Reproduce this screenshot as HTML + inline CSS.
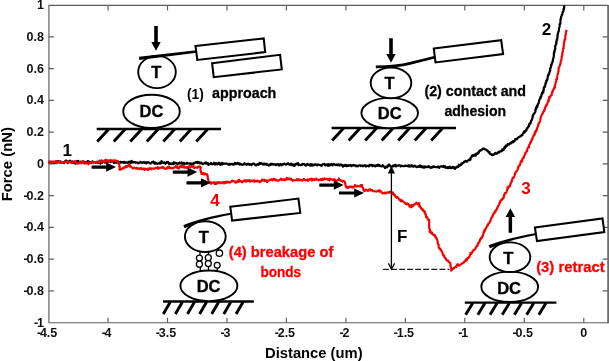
<!DOCTYPE html>
<html><head><meta charset="utf-8"><title>Force-distance curve</title>
<style>
html,body{margin:0;padding:0;background:#fff;}
svg{display:block;}
text{font-family:"Liberation Sans",sans-serif;font-weight:bold;}
.tk{font-size:12.5px;fill:#111;}
.ax{font-size:14.5px;fill:#000;}
.lb{font-size:15px;fill:#000;stroke:#000;stroke-width:0.3px;}
.lr{font-size:15px;fill:#f00;stroke:#f00;stroke-width:0.3px;}
.num{font-size:17px;}
.cell{font-size:16.5px;fill:#000;stroke:#000;stroke-width:0.35px;}
</style></head><body>
<svg width="609" height="361" viewBox="0 0 609 361">
<rect width="609" height="361" fill="#fff"/>

<g stroke="#5c5c5c" stroke-width="1.15" fill="none">
<path d="M608.3 5.4H48.9V322.7H608.3"/>
<path d="M608.1 4.9V323.2" stroke-width="1.6"/>
<path d="M108.1 322.7v-5.0M108.1 5.4v5.0"/>
<path d="M167.5 322.7v-5.0M167.5 5.4v5.0"/>
<path d="M227.0 322.7v-5.0M227.0 5.4v5.0"/>
<path d="M286.4 322.7v-5.0M286.4 5.4v5.0"/>
<path d="M345.9 322.7v-5.0M345.9 5.4v5.0"/>
<path d="M405.4 322.7v-5.0M405.4 5.4v5.0"/>
<path d="M464.8 322.7v-5.0M464.8 5.4v5.0"/>
<path d="M524.3 322.7v-5.0M524.3 5.4v5.0"/>
<path d="M583.8 322.7v-5.0M583.8 5.4v5.0"/>
<path d="M48.9 290.9h5.0M607.7 290.9h-5.0"/>
<path d="M48.9 259.1h5.0M607.7 259.1h-5.0"/>
<path d="M48.9 227.3h5.0M607.7 227.3h-5.0"/>
<path d="M48.9 195.6h5.0M607.7 195.6h-5.0"/>
<path d="M48.9 163.8h5.0M607.7 163.8h-5.0"/>
<path d="M48.9 132.1h5.0M607.7 132.1h-5.0"/>
<path d="M48.9 100.3h5.0M607.7 100.3h-5.0"/>
<path d="M48.9 68.6h5.0M607.7 68.6h-5.0"/>
<path d="M48.9 36.8h5.0M607.7 36.8h-5.0"/>
</g>
<g class="tk">
<text x="47.1" y="337.1" text-anchor="middle">-<tspan dx="-1.2">4.5</tspan></text>
<text x="106.6" y="337.1" text-anchor="middle">-<tspan dx="-1.2">4</tspan></text>
<text x="166.0" y="337.1" text-anchor="middle">-<tspan dx="-1.2">3.5</tspan></text>
<text x="225.5" y="337.1" text-anchor="middle">-<tspan dx="-1.2">3</tspan></text>
<text x="284.9" y="337.1" text-anchor="middle">-<tspan dx="-1.2">2.5</tspan></text>
<text x="344.4" y="337.1" text-anchor="middle">-<tspan dx="-1.2">2</tspan></text>
<text x="403.9" y="337.1" text-anchor="middle">-<tspan dx="-1.2">1.5</tspan></text>
<text x="463.3" y="337.1" text-anchor="middle">-<tspan dx="-1.2">1</tspan></text>
<text x="522.8" y="337.1" text-anchor="middle">-<tspan dx="-1.2">0.5</tspan></text>
<text x="583.8" y="337.1" text-anchor="middle">0</text>
<text x="43.9" y="326.7" text-anchor="end">-<tspan dx="-1.2">1</tspan></text>
<text x="43.9" y="295.0" text-anchor="end">-<tspan dx="-1.2">0.8</tspan></text>
<text x="43.9" y="263.2" text-anchor="end">-<tspan dx="-1.2">0.6</tspan></text>
<text x="43.9" y="231.4" text-anchor="end">-<tspan dx="-1.2">0.4</tspan></text>
<text x="43.9" y="199.7" text-anchor="end">-<tspan dx="-1.2">0.2</tspan></text>
<text x="43.9" y="167.9" text-anchor="end">0</text>
<text x="43.9" y="136.2" text-anchor="end">0.2</text>
<text x="43.9" y="104.4" text-anchor="end">0.4</text>
<text x="43.9" y="72.7" text-anchor="end">0.6</text>
<text x="43.9" y="40.9" text-anchor="end">0.8</text>
<text x="43.9" y="9.2" text-anchor="end">1</text>
</g>
<text class="ax" x="265" y="357.6" textLength="97.6" lengthAdjust="spacingAndGlyphs">Distance (um)</text>
<text class="ax" transform="translate(11.6 201.3) rotate(-90)" textLength="74.2" lengthAdjust="spacingAndGlyphs">Force (nN)</text>
<path d="M48.5 163.3 L49.0 162.7 L49.5 162.7 L50.0 161.7 L50.5 162.4 L51.0 162.4 L51.5 162.4 L52.0 162.2 L52.5 162.2 L53.0 162.0 L53.5 161.8 L54.0 162.7 L54.5 162.9 L55.0 163.3 L55.5 162.3 L56.0 162.0 L56.5 161.8 L57.0 161.2 L57.5 162.4 L58.0 161.5 L58.5 161.2 L59.0 161.4 L59.5 162.4 L60.0 161.8 L60.5 161.5 L61.0 162.1 L61.5 162.7 L62.0 162.3 L62.5 162.4 L63.0 162.2 L63.5 162.9 L64.0 163.2 L64.5 161.7 L65.0 161.2 L65.5 161.3 L66.0 160.5 L66.5 161.4 L67.0 161.6 L67.5 163.1 L68.0 162.3 L68.5 161.5 L69.0 162.3 L69.5 161.5 L70.0 160.7 L70.5 161.1 L71.0 161.7 L71.5 161.6 L72.0 162.3 L72.5 161.5 L73.0 162.4 L73.5 163.0 L74.0 163.1 L74.5 163.1 L75.0 163.2 L75.5 163.5 L76.0 162.1 L76.5 162.5 L77.0 161.1 L77.5 161.6 L78.0 160.8 L78.5 162.2 L79.0 162.2 L79.5 161.6 L80.0 162.5 L80.5 161.6 L81.0 162.2 L81.5 162.4 L82.0 161.9 L82.5 162.5 L83.0 163.0 L83.5 161.5 L84.0 162.3 L84.5 161.9 L85.0 162.9 L85.5 162.4 L86.0 162.5 L86.5 162.6 L87.0 162.3 L87.5 161.2 L88.0 162.5 L88.5 161.3 L89.0 161.9 L89.5 162.4 L90.0 161.8 L90.5 162.5 L91.0 163.0 L91.5 162.7 L92.0 162.1 L92.5 161.4 L93.0 162.1 L93.5 162.2 L94.0 162.3 L94.5 162.1 L95.0 162.4 L95.5 162.2 L96.0 162.3 L96.5 162.7 L97.0 161.7 L97.5 161.8 L98.0 162.8 L98.5 162.4 L99.0 161.6 L99.5 162.4 L100.0 162.9 L100.5 163.6 L101.0 163.0 L101.5 162.2 L102.0 162.0 L102.5 162.5 L103.0 161.8 L103.5 161.5 L104.0 161.8 L104.5 162.0 L105.0 162.7 L105.5 162.1 L106.0 162.5 L106.5 162.6 L107.0 161.7 L107.5 161.0 L108.0 161.6 L108.5 160.7 L109.0 161.5 L109.5 161.0 L110.0 160.9 L110.5 162.0 L111.0 161.7 L111.5 161.6 L112.0 161.6 L112.5 161.3 L113.0 161.5 L113.5 162.1 L114.0 162.9 L114.5 162.6 L115.0 162.1 L115.5 162.6 L116.0 162.0 L116.5 162.3 L117.0 162.8 L117.5 162.0 L118.0 161.4 L118.5 161.8 L119.0 162.3 L119.5 162.2 L120.0 162.7 L120.5 161.8 L121.0 162.5 L121.5 162.2 L122.0 162.0 L122.5 162.4 L123.0 162.1 L123.5 161.9 L124.0 162.9 L124.5 161.8 L125.0 162.5 L125.5 162.7 L126.0 162.8 L126.5 162.3 L127.0 162.7 L127.5 162.6 L128.0 162.8 L128.5 161.8 L129.0 162.3 L129.5 162.1 L130.0 161.6 L130.5 163.3 L131.0 162.0 L131.5 161.0 L132.0 162.4 L132.5 161.7 L133.0 162.4 L133.5 162.6 L134.0 162.0 L134.5 162.0 L135.0 162.1 L135.5 162.6 L136.0 162.3 L136.5 162.3 L137.0 162.8 L137.5 163.1 L138.0 162.8 L138.5 163.1 L139.0 163.1 L139.5 162.4 L140.0 162.7 L140.5 161.8 L141.0 162.5 L141.5 162.4 L142.0 162.9 L142.5 162.8 L143.0 162.3 L143.5 162.4 L144.0 162.0 L144.5 162.8 L145.0 162.9 L145.5 163.1 L146.0 162.2 L146.5 163.4 L147.0 162.7 L147.5 162.5 L148.0 162.2 L148.5 162.3 L149.0 162.6 L149.5 163.0 L150.0 163.3 L150.5 163.3 L151.0 163.4 L151.5 163.0 L152.0 162.1 L152.5 162.0 L153.0 161.8 L153.5 161.6 L154.0 163.3 L154.5 162.3 L155.0 163.8 L155.5 162.7 L156.0 163.4 L156.5 163.7 L157.0 163.3 L157.5 163.8 L158.0 163.6 L158.5 163.4 L159.0 163.3 L159.5 162.7 L160.0 163.7 L160.5 162.6 L161.0 163.3 L161.5 161.1 L162.0 162.6 L162.5 162.7 L163.0 162.4 L163.5 163.1 L164.0 162.9 L164.5 162.4 L165.0 162.8 L165.5 163.9 L166.0 162.7 L166.5 162.5 L167.0 162.2 L167.5 162.6 L168.0 161.9 L168.5 162.5 L169.0 164.0 L169.5 163.4 L170.0 163.4 L170.5 163.9 L171.0 164.0 L171.5 163.7 L172.0 164.1 L172.5 163.3 L173.0 163.2 L173.5 164.1 L174.0 162.2 L174.5 162.8 L175.0 163.4 L175.5 162.9 L176.0 163.2 L176.5 163.0 L177.0 163.4 L177.5 164.6 L178.0 163.4 L178.5 163.2 L179.0 163.6 L179.5 162.6 L180.0 163.2 L180.5 163.0 L181.0 163.6 L181.5 162.5 L182.0 163.8 L182.5 163.4 L183.0 162.9 L183.5 163.9 L184.0 163.0 L184.5 163.9 L185.0 163.5 L185.5 163.7 L186.0 163.6 L186.5 163.7 L187.0 162.7 L187.5 163.6 L188.0 163.3 L188.5 163.5 L189.0 163.5 L189.5 163.7 L190.0 163.1 L190.5 164.1 L191.0 164.5 L191.5 163.5 L192.0 163.5 L192.5 163.6 L193.0 164.1 L193.5 164.2 L194.0 162.9 L194.5 162.9 L195.0 162.8 L195.5 162.5 L196.0 162.1 L196.5 162.6 L197.0 161.8 L197.5 163.1 L198.0 163.0 L198.5 162.1 L199.0 162.1 L199.5 162.5 L200.0 163.4 L200.5 162.7 L201.0 162.5 L201.5 163.5 L202.0 163.7 L202.5 163.3 L203.0 164.1 L203.5 163.7 L204.0 163.5 L204.5 162.8 L205.0 163.3 L205.5 163.3 L206.0 162.4 L206.5 163.6 L207.0 162.9 L207.5 163.9 L208.0 163.2 L208.5 164.9 L209.0 164.1 L209.5 164.4 L210.0 164.0 L210.5 163.3 L211.0 162.9 L211.5 163.8 L212.0 164.4 L212.5 164.0 L213.0 163.8 L213.5 163.8 L214.0 162.7 L214.5 163.6 L215.0 164.5 L215.5 163.6 L216.0 163.2 L216.5 164.2 L217.0 163.9 L217.5 164.3 L218.0 163.3 L218.5 163.9 L219.0 162.7 L219.5 163.8 L220.0 164.5 L220.5 164.8 L221.0 163.4 L221.5 164.4 L222.0 162.8 L222.5 164.4 L223.0 164.0 L223.5 163.3 L224.0 163.8 L224.5 163.5 L225.0 163.6 L225.5 163.7 L226.0 163.7 L226.5 163.3 L227.0 163.7 L227.5 164.2 L228.0 164.2 L228.5 164.3 L229.0 164.9 L229.5 163.8 L230.0 164.1 L230.5 164.4 L231.0 164.0 L231.5 164.1 L232.0 163.8 L232.5 164.5 L233.0 163.8 L233.5 164.6 L234.0 164.2 L234.5 164.4 L235.0 163.0 L235.5 164.0 L236.0 163.1 L236.5 163.4 L237.0 164.0 L237.5 162.8 L238.0 163.0 L238.5 163.4 L239.0 164.3 L239.5 163.4 L240.0 164.5 L240.5 163.9 L241.0 164.2 L241.5 164.3 L242.0 164.8 L242.5 164.5 L243.0 164.7 L243.5 164.6 L244.0 164.4 L244.5 163.2 L245.0 163.8 L245.5 163.9 L246.0 164.3 L246.5 164.9 L247.0 164.4 L247.5 164.3 L248.0 163.7 L248.5 164.4 L249.0 164.6 L249.5 164.6 L250.0 164.0 L250.5 164.5 L251.0 164.8 L251.5 165.1 L252.0 164.2 L252.5 163.9 L253.0 163.5 L253.5 163.6 L254.0 163.6 L254.5 164.6 L255.0 164.6 L255.5 164.6 L256.0 165.3 L256.5 164.6 L257.0 164.6 L257.5 164.2 L258.0 164.5 L258.5 164.9 L259.0 164.0 L259.5 163.0 L260.0 163.9 L260.5 163.4 L261.0 163.0 L261.5 163.4 L262.0 164.0 L262.5 164.4 L263.0 163.7 L263.5 164.5 L264.0 164.6 L264.5 163.6 L265.0 164.3 L265.5 164.3 L266.0 164.5 L266.5 163.7 L267.0 164.5 L267.5 165.0 L268.0 164.9 L268.5 165.3 L269.0 164.6 L269.5 165.3 L270.0 164.7 L270.5 163.8 L271.0 164.8 L271.5 163.8 L272.0 164.3 L272.5 164.0 L273.0 164.5 L273.5 164.2 L274.0 164.1 L274.5 164.7 L275.0 164.3 L275.5 164.3 L276.0 165.0 L276.5 164.3 L277.0 164.2 L277.5 164.6 L278.0 164.1 L278.5 164.6 L279.0 165.6 L279.5 164.4 L280.0 164.6 L280.5 164.1 L281.0 164.3 L281.5 165.3 L282.0 165.0 L282.5 164.2 L283.0 164.6 L283.5 163.9 L284.0 163.7 L284.5 163.7 L285.0 164.0 L285.5 164.5 L286.0 164.7 L286.5 164.6 L287.0 164.0 L287.5 163.4 L288.0 163.7 L288.5 163.4 L289.0 164.5 L289.5 164.5 L290.0 164.8 L290.5 164.3 L291.0 163.6 L291.5 164.9 L292.0 165.2 L292.5 164.2 L293.0 165.0 L293.5 165.7 L294.0 164.6 L294.5 165.9 L295.0 164.3 L295.5 164.1 L296.0 164.5 L296.5 163.6 L297.0 163.5 L297.5 164.1 L298.0 163.1 L298.5 165.2 L299.0 164.4 L299.5 164.9 L300.0 164.8 L300.5 165.2 L301.0 165.1 L301.5 164.4 L302.0 164.9 L302.5 164.3 L303.0 163.9 L303.5 164.2 L304.0 164.1 L304.5 164.3 L305.0 165.1 L305.5 164.9 L306.0 165.6 L306.5 165.1 L307.0 164.2 L307.5 163.9 L308.0 164.6 L308.5 164.7 L309.0 165.0 L309.5 164.7 L310.0 165.6 L310.5 164.0 L311.0 164.1 L311.5 164.9 L312.0 165.8 L312.5 164.8 L313.0 164.4 L313.5 165.2 L314.0 165.1 L314.5 165.0 L315.0 164.4 L315.5 164.3 L316.0 164.5 L316.5 164.8 L317.0 165.4 L317.5 165.3 L318.0 164.4 L318.5 164.6 L319.0 164.9 L319.5 164.8 L320.0 165.1 L320.5 165.3 L321.0 165.5 L321.5 165.9 L322.0 165.1 L322.5 164.4 L323.0 164.0 L323.5 164.0 L324.0 164.4 L324.5 163.9 L325.0 165.4 L325.5 165.3 L326.0 164.9 L326.5 164.6 L327.0 164.4 L327.5 164.7 L328.0 165.9 L328.5 164.1 L329.0 165.3 L329.5 165.5 L330.0 164.8 L330.5 164.3 L331.0 164.9 L331.5 164.0 L332.0 164.9 L332.5 165.4 L333.0 164.4 L333.6 163.9 L334.0 164.2 L334.5 164.5 L335.0 164.8 L335.5 164.8 L336.0 164.8 L336.5 164.5 L337.0 165.0 L337.5 165.3 L338.1 164.3 L338.5 164.5 L339.0 165.1 L339.5 165.5 L340.1 164.4 L340.5 165.3 L341.0 164.6 L341.5 164.8 L342.0 164.9 L342.5 165.7 L343.0 166.7 L343.5 165.4 L344.0 165.9 L344.5 165.9 L345.0 165.0 L345.5 165.8 L346.0 165.0 L346.5 166.1 L347.0 166.2 L347.5 165.8 L348.0 165.2 L348.5 165.8 L349.0 165.3 L349.5 165.4 L350.0 165.6 L350.6 164.8 L351.0 165.8 L351.5 166.1 L352.0 165.4 L352.5 165.6 L353.1 164.9 L353.5 165.5 L354.1 165.4 L354.6 165.5 L355.1 165.2 L355.5 166.1 L356.0 166.3 L356.6 165.6 L357.0 165.6 L357.5 166.3 L358.0 166.2 L358.6 165.5 L359.1 165.4 L359.6 165.3 L360.1 165.3 L360.6 165.5 L361.0 166.1 L361.5 165.9 L362.0 166.0 L362.6 165.5 L363.0 166.3 L363.6 165.7 L364.1 165.8 L364.6 165.4 L365.1 165.5 L365.6 165.4 L366.0 166.7 L366.6 165.9 L367.1 165.8 L367.6 165.9 L368.1 165.6 L368.6 166.0 L369.0 166.3 L369.6 164.8 L370.1 164.8 L370.6 165.3 L371.1 165.4 L371.6 164.8 L372.1 165.7 L372.5 166.1 L373.1 165.2 L373.6 165.9 L374.1 166.1 L374.6 165.9 L375.1 165.4 L375.5 166.4 L376.1 165.6 L376.6 165.3 L377.1 165.9 L377.6 164.9 L378.1 165.4 L378.6 164.6 L379.1 165.8 L379.6 165.2 L380.1 166.2 L380.6 166.2 L381.1 166.1 L381.6 166.0 L382.1 166.3 L382.6 165.1 L383.1 166.1 L383.6 166.1 L384.0 166.6 L384.5 167.0 L385.0 168.1 L385.5 166.7 L386.0 167.1 L386.5 166.7 L387.0 167.3 L387.6 165.6 L388.1 166.4 L388.6 165.0 L389.1 164.5 L389.6 165.1 L390.1 165.9 L390.6 166.5 L391.1 166.6 L391.5 166.9 L392.1 166.4 L392.6 166.5 L393.1 165.5 L393.6 166.4 L394.1 166.1 L394.6 165.4 L395.1 164.8 L395.6 165.1 L396.1 166.5 L396.6 165.7 L397.1 165.6 L397.6 165.6 L398.1 165.8 L398.6 165.2 L399.1 165.3 L399.6 165.3 L400.1 165.7 L400.6 166.4 L401.1 165.6 L401.6 166.1 L402.1 165.9 L402.6 166.0 L403.1 166.1 L403.6 166.2 L404.1 166.2 L404.6 165.9 L405.1 165.5 L405.6 166.0 L406.1 165.9 L406.6 166.0 L407.1 166.0 L407.6 166.1 L408.1 165.3 L408.6 166.3 L409.1 166.6 L409.6 165.4 L410.1 166.6 L410.6 166.1 L411.1 165.8 L411.6 165.2 L412.1 166.4 L412.6 166.0 L413.1 165.8 L413.6 166.7 L414.1 165.9 L414.6 166.2 L415.1 165.7 L415.6 166.4 L416.1 166.8 L416.6 167.2 L417.1 166.8 L417.6 166.6 L418.1 166.5 L418.6 166.1 L419.1 166.8 L419.6 166.5 L420.1 165.4 L420.6 166.0 L421.1 167.1 L421.6 166.2 L422.1 166.5 L422.6 167.3 L423.1 166.5 L423.6 167.5 L424.0 167.7 L424.6 166.5 L425.1 167.3 L425.6 166.7 L426.1 166.5 L426.6 167.1 L427.1 167.0 L427.6 166.8 L428.1 167.2 L428.6 166.1 L429.1 166.7 L429.6 166.7 L430.1 167.6 L430.6 167.8 L431.1 167.8 L431.6 167.1 L432.1 167.4 L432.6 167.5 L433.1 166.3 L433.6 166.4 L434.1 166.9 L434.6 166.9 L435.1 166.8 L435.6 167.1 L436.1 167.3 L436.6 167.1 L437.1 167.2 L437.6 166.7 L438.1 166.9 L438.6 166.6 L439.1 167.9 L439.6 166.9 L440.1 166.7 L440.6 166.3 L441.1 166.5 L441.6 166.4 L442.1 166.7 L442.6 166.5 L443.1 166.9 L443.6 166.0 L444.1 166.8 L444.5 167.3 L445.1 166.2 L445.5 167.4 L446.0 167.8 L446.5 167.6 L447.0 167.5 L447.5 167.1 L448.0 168.2 L448.5 167.2 L449.0 167.0 L449.5 167.9 L450.0 166.7 L450.5 167.9 L451.0 167.9 L451.5 168.2 L452.0 167.5 L452.5 166.9 L453.0 167.0 L453.5 168.2 L454.0 167.3 L454.5 167.5 L455.0 168.9 L455.5 167.5 L456.0 167.7 L456.5 167.6 L457.0 167.3 L457.3 166.3 L457.7 166.4 L458.3 166.8 L458.6 166.2 L458.9 164.7 L459.4 164.9 L459.9 165.6 L460.3 165.1 L460.7 164.7 L461.2 164.9 L461.4 163.4 L461.9 164.0 L462.2 163.3 L462.7 163.2 L463.1 163.0 L463.5 162.9 L463.9 162.2 L464.3 161.4 L464.8 161.8 L465.2 161.4 L465.6 160.8 L466.2 161.7 L466.7 161.6 L467.2 161.6 L467.6 160.7 L468.0 160.5 L468.5 160.1 L469.0 159.8 L469.5 160.1 L469.7 159.6 L470.0 159.0 L470.5 159.6 L470.5 157.9 L470.8 157.7 L471.1 157.4 L471.5 157.4 L471.6 156.4 L471.9 155.9 L472.4 155.4 L472.9 155.6 L473.3 155.0 L473.9 155.9 L474.3 155.3 L474.8 155.4 L475.1 154.4 L475.8 155.6 L476.1 153.9 L476.5 153.4 L477.0 153.9 L477.5 154.0 L477.8 153.6 L478.0 152.6 L478.5 152.7 L478.9 152.7 L479.0 151.4 L479.4 151.2 L479.6 150.5 L480.1 150.7 L480.5 150.7 L480.8 150.3 L481.2 150.1 L481.6 150.1 L481.9 149.4 L482.3 149.5 L482.8 148.7 L483.3 148.7 L483.8 149.0 L484.3 148.7 L484.8 149.3 L485.2 149.5 L485.6 149.5 L486.1 149.5 L486.4 149.9 L486.7 150.7 L487.2 150.5 L487.5 151.0 L488.0 151.1 L488.3 151.7 L488.6 152.3 L489.1 152.2 L489.5 152.2 L489.8 153.7 L490.2 153.6 L490.6 154.2 L491.1 154.1 L491.4 154.5 L491.8 154.9 L492.3 155.1 L492.8 154.6 L493.2 154.4 L493.6 154.8 L494.1 154.4 L494.5 154.0 L494.9 153.4 L495.3 152.8 L495.8 153.6 L496.3 153.7 L496.8 153.6 L497.2 153.5 L497.6 152.6 L498.0 152.2 L498.5 152.5 L498.9 151.6 L499.4 152.3 L499.8 151.4 L500.3 151.5 L500.7 151.4 L501.2 151.3 L501.6 150.3 L502.1 150.9 L502.3 149.4 L502.9 149.9 L503.2 149.7 L503.7 149.8 L503.9 148.6 L504.2 147.9 L504.4 147.2 L505.1 148.1 L505.2 146.6 L505.7 147.0 L505.8 145.6 L506.4 146.1 L506.8 146.0 L507.1 145.2 L507.4 144.7 L507.8 144.1 L508.2 143.9 L508.7 144.7 L509.2 144.5 L509.5 144.1 L509.9 143.9 L510.2 143.2 L510.7 143.5 L511.2 143.3 L511.5 142.1 L512.0 142.2 L512.5 142.3 L512.8 141.2 L513.4 142.2 L513.8 141.7 L514.1 140.8 L514.6 140.8 L515.0 140.7 L515.2 139.2 L515.7 139.5 L516.1 138.9 L516.6 139.2 L517.0 139.2 L517.4 138.5 L517.8 137.8 L518.2 137.5 L518.6 137.3 L519.1 137.2 L519.5 136.9 L519.9 136.4 L520.3 136.2 L520.8 136.3 L521.2 135.8 L521.5 135.1 L522.0 135.2 L522.4 135.2 L522.6 134.1 L522.9 133.7 L523.2 133.2 L523.4 132.5 L523.9 132.9 L523.9 131.7 L524.6 132.6 L524.8 131.8 L525.0 131.2 L525.5 131.5 L525.6 130.3 L526.0 130.6 L526.4 130.3 L526.5 129.3 L526.7 128.9 L527.1 128.8 L527.2 127.8 L527.5 127.6 L527.9 127.3 L528.3 127.3 L528.4 126.3 L528.7 126.0 L529.0 125.9 L529.0 124.4 L529.5 124.6 L529.5 123.6 L529.8 123.5 L530.3 123.9 L530.4 123.1 L530.7 122.9 L530.7 122.1 L531.0 121.8 L531.0 121.1 L531.2 120.6 L531.5 120.4 L531.7 119.9 L532.0 119.8 L532.1 119.0 L532.3 118.6 L532.4 118.0 L532.6 117.6 L532.5 116.5 L532.9 116.4 L532.8 115.4 L533.1 115.1 L533.2 114.5 L533.6 114.5 L533.7 114.0 L534.0 113.7 L534.2 113.4 L534.5 113.1 L534.7 112.8 L535.0 112.6 L535.2 112.1 L535.4 111.6 L535.3 110.6 L535.3 109.7 L535.7 109.7 L536.0 109.5 L535.9 108.3 L536.2 108.0 L536.2 107.2 L536.7 107.6 L536.8 106.7 L537.3 107.3 L537.1 105.7 L537.5 105.7 L537.7 105.3 L537.8 104.5 L538.0 104.1 L538.2 103.8 L538.3 103.2 L538.7 103.0 L538.8 102.5 L538.9 101.7 L539.0 101.2 L539.3 100.8 L539.3 99.9 L539.5 99.6 L539.7 99.0 L540.0 98.9 L540.1 98.2 L540.6 98.4 L540.4 97.0 L540.8 97.1 L540.9 96.4 L541.3 96.6 L541.3 95.7 L541.3 94.7 L541.6 94.6 L542.0 94.6 L541.9 93.6 L542.3 93.5 L542.2 92.5 L542.5 92.3 L542.9 92.4 L543.3 92.5 L543.1 91.2 L543.4 91.1 L543.4 90.1 L543.8 90.2 L543.7 89.1 L543.8 88.5 L543.8 87.4 L544.0 87.2 L544.3 87.0 L544.7 87.1 L544.7 86.1 L545.1 86.3 L545.2 85.6 L545.3 85.1 L545.4 84.3 L545.4 83.5 L545.6 83.1 L546.0 83.2 L545.9 82.1 L546.1 81.8 L546.4 81.7 L546.3 80.6 L546.8 80.8 L546.9 80.2 L547.1 79.9 L547.4 79.7 L547.4 78.9 L547.5 78.3 L547.6 77.7 L547.7 77.1 L547.8 76.4 L548.0 76.0 L548.0 75.2 L548.5 75.6 L548.4 74.4 L548.8 74.4 L549.1 74.3 L549.2 73.7 L549.2 72.9 L549.3 72.3 L549.5 71.9 L549.8 71.9 L549.9 71.1 L549.9 70.5 L550.3 70.4 L550.0 69.0 L550.1 68.6 L550.3 68.2 L550.6 68.1 L550.8 67.7 L550.8 67.1 L551.0 66.7 L551.1 66.1 L551.1 65.4 L551.1 64.6 L551.6 64.9 L551.6 64.1 L551.7 63.7 L552.0 63.5 L552.0 62.7 L552.2 62.5 L552.5 62.3 L552.6 61.7 L552.8 61.4 L552.7 60.6 L552.9 60.1 L552.9 59.4 L553.1 59.1 L553.3 58.7 L553.3 58.1 L553.3 57.4 L553.6 57.3 L553.7 56.8 L553.8 56.4 L553.9 55.8 L553.8 55.0 L553.8 54.3 L554.1 54.2 L553.8 53.0 L554.0 52.6 L554.3 52.5 L554.2 51.7 L554.7 51.9 L554.7 51.2 L554.7 50.7 L554.7 49.9 L554.8 49.5 L555.1 49.4 L555.1 48.8 L555.4 48.6 L555.3 47.7 L555.0 46.5 L555.3 46.4 L555.4 45.9 L555.6 45.7 L555.7 45.1 L555.8 44.7 L555.9 44.2 L556.1 43.9 L556.4 43.8 L556.2 42.7 L556.2 42.0 L556.3 41.6 L556.7 41.6 L556.6 40.7 L556.7 40.3 L556.7 39.7 L557.1 39.8 L557.2 39.2 L557.2 38.7 L557.3 38.1 L557.4 37.7 L557.4 36.9 L557.6 36.6 L557.7 36.1 L557.4 35.0 L557.6 34.7 L557.9 34.5 L558.0 34.1 L557.9 33.2 L558.1 33.0 L558.2 32.5 L558.4 32.1 L558.5 31.7 L558.7 31.3 L558.8 30.8 L558.9 30.3 L558.9 29.7 L559.0 29.1 L558.9 28.4 L559.1 28.1 L559.3 27.9 L559.4 27.3 L559.5 26.9 L559.6 26.4 L559.6 25.8 L559.7 25.2 L559.6 24.3 L559.9 24.3 L560.1 23.9 L560.4 23.8 L560.2 22.9 L560.4 22.4 L560.3 21.7 L560.4 21.2 L560.5 20.6 L560.5 20.0 L560.6 19.6 L560.7 19.1 L560.9 18.7 L560.9 17.9 L561.1 17.6 L561.2 17.0 L561.2 16.3 L561.5 16.1 L561.7 15.7 L561.7 15.0 L562.1 15.1 L562.1 14.3 L562.4 14.2 L562.5 13.6 L562.4 12.7 L562.7 12.5 L562.7 11.7 L563.0 11.6 L563.2 11.3 L563.5 11.1 L563.5 10.5 L563.4 9.5 L563.5 9.0 L564.0 9.1 L563.9 8.2 L564.2 8.0 L564.1 7.0 L564.3 6.8 L564.3 6.0 L564.6 5.8 L564.9 5.7" fill="none" stroke="#000" stroke-width="2.2" stroke-linejoin="round"/>
<path d="M48.5 161.9 L49.0 161.5 L49.5 162.8 L50.0 161.6 L50.5 161.7 L51.0 162.9 L51.5 161.6 L52.0 161.5 L52.5 162.1 L53.0 162.0 L53.5 161.6 L54.0 162.1 L54.5 162.1 L55.0 162.6 L55.5 161.0 L56.0 161.6 L56.5 162.8 L57.0 163.2 L57.5 161.7 L58.0 162.7 L58.5 161.5 L59.0 161.8 L59.5 161.6 L60.0 162.0 L60.5 162.9 L61.0 163.0 L61.5 162.3 L62.0 161.8 L62.5 162.1 L63.0 162.1 L63.5 162.6 L64.0 162.0 L64.5 162.3 L65.0 161.8 L65.5 161.8 L66.0 161.9 L66.5 161.7 L67.0 162.1 L67.5 161.2 L68.0 162.2 L68.5 161.3 L69.0 161.3 L69.5 161.7 L70.0 162.1 L70.5 162.3 L71.0 162.9 L71.5 162.8 L72.0 162.7 L72.5 162.3 L73.0 162.0 L73.5 162.5 L74.0 162.2 L74.5 161.0 L75.0 161.2 L75.5 161.5 L76.0 162.5 L76.5 162.3 L77.0 163.7 L77.5 163.7 L78.0 163.5 L78.5 163.1 L79.0 163.3 L79.5 162.3 L80.0 162.0 L80.5 162.7 L81.0 162.3 L81.5 163.4 L82.0 162.5 L82.5 161.1 L83.0 162.9 L83.5 161.5 L84.0 163.3 L84.5 163.7 L85.0 162.9 L85.5 162.5 L86.0 162.5 L86.5 163.4 L87.0 162.6 L87.5 162.8 L88.0 163.1 L88.5 164.3 L89.0 163.1 L89.5 163.4 L90.0 163.1 L90.5 162.9 L91.0 162.6 L91.5 162.0 L92.0 161.9 L92.5 161.4 L93.0 161.8 L93.5 163.1 L94.0 162.4 L94.5 162.5 L95.0 162.4 L95.5 162.1 L96.0 162.6 L96.5 162.1 L97.0 162.2 L97.5 162.5 L98.0 162.4 L98.5 162.4 L99.0 162.0 L99.5 160.6 L100.0 161.8 L100.5 161.4 L101.0 161.7 L101.4 160.3 L102.0 162.3 L102.5 160.8 L103.0 162.1 L103.5 161.9 L104.0 161.5 L104.5 162.0 L105.0 161.0 L105.4 159.5 L105.9 159.9 L106.4 160.9 L107.0 161.7 L107.4 160.3 L108.0 161.5 L108.5 161.7 L109.0 161.4 L109.4 160.8 L109.9 160.3 L110.4 160.0 L110.9 160.8 L111.4 161.3 L111.9 160.4 L112.4 160.5 L112.9 161.5 L113.4 160.9 L113.9 160.3 L114.4 160.2 L114.9 160.2 L115.4 160.7 L115.9 161.0 L116.4 161.2 L116.9 160.6 L117.4 160.8 L117.9 161.3 L118.0 161.6 L118.1 162.2 L118.2 162.6 L118.6 162.6 L118.9 162.8 L118.6 164.2 L119.0 164.2 L119.1 164.6 L119.4 164.9 L119.5 165.3 L119.3 166.2 L119.4 166.6 L119.7 166.7 L119.6 167.5 L119.6 168.1 L119.6 168.8 L119.4 169.7 L119.8 169.8 L120.3 169.1 L120.8 169.4 L121.2 168.6 L121.7 169.1 L122.2 168.8 L122.7 168.8 L123.1 167.8 L123.6 168.1 L124.0 167.5 L124.5 167.7 L124.8 166.8 L125.3 166.5 L125.8 167.1 L126.2 166.2 L126.8 167.1 L127.1 166.1 L127.6 166.2 L128.0 165.7 L128.5 165.2 L129.1 164.1 L129.3 166.5 L129.9 165.8 L130.3 166.7 L130.8 166.1 L131.2 166.9 L131.6 167.3 L132.0 167.4 L132.4 168.1 L132.9 168.6 L133.4 167.9 L133.9 167.6 L134.4 167.6 L134.9 168.1 L135.4 168.5 L135.9 168.3 L136.4 168.2 L136.9 167.7 L137.3 168.9 L137.9 168.3 L138.4 168.2 L138.8 168.9 L139.3 169.1 L139.8 168.9 L140.3 168.2 L140.8 168.7 L141.3 168.0 L141.8 169.1 L142.3 168.9 L142.8 169.2 L143.3 168.7 L143.8 168.5 L144.3 169.9 L144.8 168.6 L145.3 168.7 L145.8 169.1 L146.3 169.6 L146.8 169.3 L147.3 168.9 L147.8 168.5 L148.3 169.9 L148.8 168.6 L149.3 168.2 L149.8 168.8 L150.3 168.3 L150.8 168.4 L151.3 169.3 L151.8 168.4 L152.3 168.6 L152.8 168.5 L153.3 168.5 L153.8 168.8 L154.3 168.8 L154.8 168.5 L155.3 167.7 L155.8 167.7 L156.3 168.3 L156.8 167.7 L157.3 167.5 L157.8 167.1 L158.3 168.9 L158.8 167.7 L159.3 167.8 L159.8 168.0 L160.3 167.9 L160.8 167.7 L161.3 167.3 L161.8 167.6 L162.3 167.5 L162.7 166.8 L163.3 167.9 L163.8 167.6 L164.3 168.5 L164.8 168.6 L165.3 168.9 L165.8 168.6 L166.3 168.6 L166.8 168.6 L167.3 167.5 L167.7 167.1 L168.3 167.9 L168.7 166.5 L169.2 167.0 L169.8 167.9 L170.3 167.5 L170.8 168.3 L171.3 167.8 L171.8 168.0 L172.3 168.3 L172.8 168.4 L173.3 168.3 L173.7 167.5 L174.3 167.7 L174.7 167.2 L175.2 167.1 L175.7 166.2 L176.2 166.6 L176.7 167.6 L177.2 166.7 L177.8 168.0 L178.3 167.9 L178.8 168.7 L179.2 167.4 L179.7 167.4 L180.2 166.0 L180.7 166.5 L181.2 166.9 L181.7 165.7 L182.2 167.3 L182.7 166.1 L183.2 166.7 L183.7 165.4 L184.2 167.7 L184.7 167.2 L185.2 167.6 L185.7 167.1 L186.2 167.3 L186.7 168.0 L187.2 167.1 L187.7 167.4 L188.2 166.9 L188.7 166.9 L189.2 166.1 L189.7 166.6 L190.2 167.6 L190.7 166.7 L191.2 166.6 L191.7 166.0 L192.2 166.5 L192.7 166.7 L193.2 165.8 L193.7 166.3 L194.2 168.2 L194.7 167.5 L195.2 167.6 L195.7 167.4 L196.2 167.7 L196.7 167.4 L197.2 167.2 L197.7 167.8 L198.2 166.9 L198.7 166.6 L199.2 166.7 L199.8 166.3 L200.1 166.8 L200.2 167.3 L200.3 167.9 L200.8 167.7 L200.5 169.1 L200.4 170.2 L200.5 170.7 L200.8 170.8 L200.9 171.3 L200.9 172.3 L201.3 172.2 L201.5 172.6 L201.4 173.9 L201.9 173.4 L202.1 174.0 L202.4 174.1 L202.6 173.9 L203.0 173.1 L203.6 173.7 L204.1 174.6 L204.6 173.4 L205.1 174.2 L205.6 173.8 L206.1 174.1 L206.5 174.4 L207.1 174.1 L207.2 175.6 L207.5 175.4 L207.5 176.2 L207.8 176.3 L207.7 177.3 L207.6 178.3 L208.0 178.2 L208.2 178.7 L208.1 179.5 L208.3 180.1 L208.5 180.4 L208.6 181.1 L208.9 181.4 L209.0 181.9 L209.4 182.0 L209.7 182.2 L209.9 183.0 L210.5 182.3 L211.0 183.8 L211.5 182.5 L212.0 182.5 L212.5 182.5 L213.0 182.8 L213.5 182.4 L214.0 182.4 L214.5 183.9 L215.0 182.4 L215.5 184.1 L216.0 183.2 L216.5 182.4 L217.0 183.7 L217.5 182.7 L218.0 182.0 L218.5 182.5 L219.0 182.8 L219.5 182.2 L220.0 182.5 L220.5 183.2 L221.0 182.7 L221.5 182.5 L222.0 182.7 L222.5 182.1 L223.0 182.8 L223.5 183.5 L224.0 182.1 L224.5 183.3 L225.0 182.5 L225.5 181.8 L226.0 182.1 L226.5 182.8 L227.0 181.5 L227.5 182.2 L228.0 182.5 L228.5 181.8 L229.0 182.4 L229.5 182.6 L230.0 182.2 L230.5 182.5 L231.0 181.8 L231.5 181.3 L232.0 180.7 L232.5 181.4 L233.0 180.7 L233.5 181.1 L234.0 181.2 L234.5 181.2 L235.0 181.7 L235.5 182.7 L236.0 181.5 L236.5 182.5 L237.0 181.8 L237.5 181.4 L238.0 180.6 L238.5 181.9 L239.0 179.8 L239.5 180.8 L240.0 181.5 L240.5 180.8 L241.0 181.1 L241.5 181.7 L242.0 182.2 L242.5 182.4 L243.0 181.7 L243.5 180.7 L244.0 180.9 L244.5 180.9 L245.0 180.1 L245.5 180.7 L246.0 181.8 L246.5 180.3 L247.0 181.4 L247.5 180.4 L248.0 180.6 L248.5 180.9 L249.0 180.1 L249.5 180.6 L250.0 181.7 L250.5 181.4 L251.0 181.0 L251.5 180.3 L252.0 180.8 L252.5 180.7 L253.0 181.3 L253.5 181.5 L254.0 180.3 L254.5 181.5 L255.0 180.9 L255.5 181.3 L256.0 180.6 L256.5 181.3 L257.0 181.2 L257.5 180.6 L258.0 181.2 L258.5 181.5 L259.0 181.3 L259.5 182.1 L260.0 181.2 L260.5 181.7 L261.0 181.5 L261.5 181.0 L262.0 179.6 L262.5 180.1 L263.0 180.4 L263.5 180.4 L264.0 179.7 L264.5 181.2 L265.0 179.9 L265.5 180.9 L266.0 180.6 L266.5 180.4 L267.0 182.1 L267.5 180.6 L268.0 180.7 L268.5 180.7 L269.0 180.5 L269.5 180.0 L270.0 179.8 L270.5 180.1 L271.0 179.7 L271.4 179.1 L271.9 179.4 L272.5 180.4 L272.9 179.3 L273.5 179.6 L273.9 178.6 L274.5 179.6 L274.9 179.3 L275.5 180.4 L276.0 179.5 L276.5 180.1 L277.0 180.6 L277.5 180.5 L278.0 180.6 L278.5 180.8 L279.0 180.3 L279.5 180.1 L279.9 179.5 L280.4 179.5 L280.9 178.6 L281.5 179.6 L282.0 180.1 L282.4 179.5 L282.9 179.3 L283.5 179.9 L284.0 180.3 L284.5 180.3 L284.9 179.0 L285.5 179.8 L285.9 179.2 L286.5 179.5 L286.9 177.9 L287.4 179.4 L287.9 178.7 L288.4 179.2 L288.9 179.2 L289.4 178.3 L290.0 179.4 L290.5 178.9 L291.0 178.7 L291.4 179.8 L291.9 180.1 L292.4 179.9 L292.9 180.8 L293.4 180.3 L293.9 180.4 L294.4 180.3 L294.9 180.3 L295.4 180.1 L295.9 180.3 L296.4 179.6 L297.0 179.2 L297.4 180.5 L297.9 180.3 L298.5 179.3 L298.9 180.1 L299.4 180.0 L299.9 179.4 L300.4 180.5 L300.9 180.3 L301.4 180.0 L301.9 180.3 L302.4 180.6 L302.9 179.7 L303.4 179.3 L303.9 178.8 L304.4 179.9 L304.9 179.7 L305.4 180.4 L305.9 180.2 L306.4 180.0 L306.9 180.0 L307.4 179.4 L307.9 180.8 L308.4 180.1 L308.9 180.3 L309.4 179.2 L309.9 179.5 L310.4 179.4 L310.9 178.8 L311.4 178.6 L311.9 180.8 L312.4 179.1 L312.9 179.7 L313.4 179.6 L313.9 179.3 L314.4 180.1 L314.9 179.8 L315.4 179.3 L315.9 178.5 L316.4 179.6 L316.9 179.8 L317.4 179.5 L317.9 179.8 L318.4 180.3 L318.9 179.6 L319.4 180.0 L319.9 180.3 L320.4 180.1 L320.9 179.0 L321.4 180.1 L321.9 179.5 L322.4 178.7 L322.9 180.0 L323.4 179.0 L323.9 179.5 L324.4 178.4 L324.9 178.7 L325.4 179.0 L325.9 179.1 L326.4 178.8 L326.9 178.7 L327.4 178.7 L327.9 179.7 L328.4 179.1 L328.9 179.1 L329.4 180.4 L329.9 178.6 L330.4 178.7 L330.9 178.8 L331.4 179.4 L331.9 179.2 L332.4 180.0 L332.9 179.9 L333.4 179.4 L333.9 180.1 L334.4 179.1 L334.9 180.0 L335.4 180.1 L335.9 181.2 L336.4 180.9 L336.9 180.5 L337.4 180.6 L337.9 180.0 L338.4 179.4 L338.9 178.4 L339.4 180.0 L339.9 180.5 L340.4 180.0 L340.9 180.5 L341.4 180.7 L341.9 181.3 L342.4 181.7 L342.9 180.6 L343.4 181.1 L343.9 181.0 L344.3 181.2 L344.3 181.4 L344.4 181.9 L344.8 181.8 L345.0 182.2 L344.9 183.0 L345.0 183.5 L345.3 183.6 L345.3 184.3 L345.4 184.8 L345.5 185.4 L345.7 185.5 L345.7 186.3 L345.8 186.8 L345.9 186.7 L346.2 187.4 L346.8 187.6 L347.3 187.8 L347.7 187.0 L348.2 187.3 L348.8 187.8 L349.2 186.5 L349.7 187.1 L350.2 187.0 L350.7 186.7 L351.2 187.0 L351.7 186.4 L352.3 187.6 L352.7 187.3 L353.3 187.5 L353.7 187.4 L354.2 186.3 L354.7 186.3 L355.1 184.9 L355.7 186.3 L356.2 186.6 L356.7 186.3 L357.2 186.3 L357.7 185.9 L358.2 186.2 L358.7 186.2 L359.2 186.4 L359.7 186.3 L360.1 186.1 L360.6 185.1 L361.0 186.6 L361.6 185.5 L362.1 184.8 L362.3 186.9 L362.3 187.1 L362.6 187.4 L362.7 187.7 L363.0 188.0 L363.2 188.3 L363.2 189.0 L363.4 189.2 L363.4 189.9 L363.6 190.2 L364.0 190.7 L364.5 191.2 L365.0 190.3 L365.5 190.7 L366.0 189.5 L366.5 189.7 L367.0 190.4 L367.5 190.8 L368.0 190.4 L368.5 190.7 L369.0 189.5 L369.5 190.2 L370.0 189.1 L370.5 190.4 L371.0 190.3 L371.5 190.3 L372.0 189.9 L372.5 190.9 L373.0 191.2 L373.5 191.3 L374.0 191.1 L374.5 191.2 L375.0 191.2 L375.5 191.4 L376.0 191.7 L376.5 191.7 L377.0 191.1 L377.5 191.2 L378.0 191.4 L378.5 190.6 L379.0 190.5 L379.6 190.2 L379.9 191.6 L380.4 191.1 L380.9 191.3 L381.3 192.0 L381.7 192.5 L382.2 192.6 L382.6 193.4 L383.0 193.5 L383.5 193.2 L384.1 192.9 L384.5 192.7 L384.9 193.3 L385.4 193.5 L385.8 192.6 L386.3 193.2 L386.7 192.6 L387.2 192.4 L387.7 192.4 L388.2 192.7 L388.7 192.9 L389.1 192.1 L389.6 192.5 L390.0 191.7 L390.6 192.1 L390.9 192.1 L391.3 192.0 L391.5 192.7 L391.9 192.9 L392.4 192.7 L392.9 192.4 L393.0 193.9 L393.3 194.4 L393.8 193.9 L394.0 194.9 L394.3 195.3 L394.9 194.8 L395.1 195.9 L395.4 196.7 L395.9 196.5 L396.3 196.9 L396.6 197.8 L397.1 197.3 L397.6 196.9 L397.9 198.1 L398.3 198.0 L398.7 198.6 L399.0 199.5 L399.4 199.6 L399.8 200.2 L400.3 199.7 L400.7 200.4 L401.0 201.3 L401.6 200.4 L402.1 200.4 L402.4 201.1 L402.9 201.2 L403.2 201.7 L403.6 201.9 L404.1 202.1 L404.5 202.4 L404.9 202.6 L405.2 203.7 L405.7 203.0 L406.0 204.1 L406.4 204.4 L407.0 203.5 L407.5 203.5 L407.9 204.0 L408.4 203.9 L408.7 205.1 L409.2 204.9 L409.4 206.6 L410.0 205.5 L410.4 205.9 L410.8 207.1 L411.3 206.1 L411.8 207.2 L411.8 204.7 L412.4 205.3 L412.9 205.9 L413.4 205.8 L413.7 205.0 L414.0 204.3 L414.5 204.3 L414.9 204.4 L415.4 203.9 L415.8 203.7 L416.2 202.6 L416.7 203.0 L417.3 203.4 L417.8 204.3 L418.2 203.1 L418.5 203.3 L418.9 203.2 L419.2 203.4 L419.5 203.5 L419.3 205.0 L419.2 206.4 L419.6 206.2 L420.1 206.0 L420.2 207.2 L420.6 207.3 L420.9 207.5 L421.1 208.7 L421.5 208.8 L421.8 209.3 L422.3 208.8 L422.5 209.8 L422.9 209.7 L423.1 210.7 L423.6 210.2 L423.8 211.2 L424.3 211.0 L424.5 211.5 L424.8 211.6 L424.7 212.9 L425.2 212.6 L425.3 213.1 L425.5 213.5 L425.4 214.8 L425.8 214.8 L426.0 215.1 L426.0 216.1 L426.1 217.2 L426.6 216.9 L427.0 216.9 L427.3 217.3 L427.5 218.1 L427.6 219.3 L428.1 219.0 L428.3 219.6 L428.7 219.5 L429.1 219.8 L428.9 220.8 L429.0 221.1 L429.2 221.4 L429.4 221.5 L429.2 222.4 L429.2 222.9 L429.1 223.8 L429.1 224.3 L429.1 224.7 L429.1 225.4 L429.1 225.9 L429.2 226.3 L429.4 226.6 L429.2 227.5 L429.1 228.1 L429.5 228.0 L429.4 228.7 L429.7 228.8 L429.8 229.2 L429.8 229.8 L429.8 230.4 L429.6 231.2 L429.6 231.9 L430.3 230.6 L430.5 232.2 L431.0 232.4 L431.3 233.3 L431.9 232.4 L432.3 233.3 L432.6 234.3 L433.1 234.4 L433.4 235.1 L433.9 234.7 L434.4 234.7 L434.6 235.4 L435.0 235.1 L435.1 236.0 L435.2 236.7 L435.4 237.3 L435.9 237.0 L436.1 237.5 L436.3 238.0 L436.6 238.3 L436.7 238.8 L436.8 239.3 L437.0 239.5 L437.3 239.7 L437.3 240.4 L437.5 240.7 L437.5 241.2 L437.7 241.7 L437.6 242.5 L437.7 242.9 L437.8 243.5 L438.0 243.7 L438.1 244.3 L438.4 244.4 L438.6 244.8 L438.8 245.2 L438.6 246.3 L438.6 247.2 L438.8 247.8 L439.2 247.6 L439.5 248.0 L439.7 248.6 L440.0 248.7 L440.4 248.8 L440.4 250.1 L440.8 250.1 L441.2 250.1 L441.4 250.9 L441.7 251.0 L441.8 251.8 L442.1 252.1 L442.3 252.8 L442.6 253.3 L442.8 253.8 L442.9 254.7 L443.2 255.0 L443.6 255.1 L443.7 256.0 L444.2 255.5 L444.4 256.4 L444.5 257.3 L444.9 257.5 L445.1 258.1 L445.5 258.1 L445.7 259.1 L446.1 258.9 L446.3 259.8 L446.7 260.0 L446.9 260.6 L447.4 260.4 L447.8 260.8 L448.3 260.6 L448.5 261.7 L448.9 262.0 L449.4 262.0 L449.7 262.7 L450.1 262.6 L450.3 262.9 L450.4 263.4 L450.5 263.9 L450.3 264.8 L450.6 265.0 L450.5 265.7 L450.6 266.3 L450.7 266.6 L450.9 266.9 L450.9 267.6 L451.0 268.2 L451.4 268.0 L451.3 269.1 L451.1 270.6 L451.7 270.2 L452.0 269.7 L452.4 269.5 L452.6 268.8 L453.1 268.9 L453.4 268.5 L453.7 267.8 L454.2 268.3 L454.5 267.8 L454.9 267.6 L455.2 267.2 L455.5 267.0 L455.8 266.4 L456.3 266.9 L456.3 265.8 L456.7 265.3 L457.2 264.7 L457.7 264.1 L458.2 264.8 L458.6 265.5 L459.1 265.8 L459.6 265.4 L459.9 264.8 L460.3 264.5 L460.7 264.4 L461.2 264.2 L461.6 263.9 L461.9 263.5 L462.3 263.2 L462.8 263.2 L463.1 262.6 L463.6 262.5 L464.0 262.4 L464.4 262.0 L464.7 261.1 L465.1 261.0 L465.6 261.2 L465.9 260.8 L465.9 259.3 L466.6 260.3 L466.9 259.9 L467.2 259.6 L467.3 258.1 L467.7 258.2 L468.1 258.0 L468.5 257.8 L468.7 257.0 L469.2 257.3 L469.4 256.6 L469.7 256.1 L470.0 255.7 L470.1 254.5 L470.5 254.2 L470.5 252.9 L471.2 254.0 L471.6 253.7 L471.8 252.9 L472.0 252.3 L472.4 252.2 L472.7 251.8 L472.8 250.6 L473.2 250.7 L473.6 250.5 L473.8 249.7 L474.2 249.5 L474.6 249.7 L474.9 249.3 L475.3 249.3 L475.5 248.5 L475.7 247.5 L476.1 247.5 L476.2 246.7 L476.5 246.2 L476.8 246.2 L477.2 246.2 L477.3 245.4 L477.8 245.5 L477.7 244.0 L478.0 243.8 L478.3 243.5 L478.3 242.5 L478.7 242.3 L479.1 242.6 L479.4 242.1 L479.6 241.6 L479.8 240.9 L479.9 240.3 L480.0 239.2 L480.4 239.4 L480.8 239.2 L480.9 238.6 L481.1 237.9 L481.5 237.9 L481.8 237.7 L482.2 237.6 L482.1 236.3 L482.5 236.3 L482.8 236.0 L482.9 235.2 L483.0 234.6 L483.2 234.1 L483.4 233.6 L483.6 233.2 L483.6 232.1 L484.0 232.0 L484.3 231.9 L484.4 231.0 L484.3 229.8 L485.0 230.6 L485.0 229.7 L485.3 229.6 L485.6 229.3 L485.8 228.6 L486.0 228.2 L486.2 227.8 L486.5 227.5 L486.7 226.7 L486.9 226.2 L487.3 226.3 L487.3 225.3 L487.7 225.1 L488.1 225.2 L488.1 224.1 L488.4 223.8 L488.7 223.5 L489.0 223.2 L489.3 223.1 L489.5 222.5 L489.7 221.8 L489.9 221.4 L490.3 221.3 L490.6 221.2 L490.5 219.7 L490.9 219.7 L491.0 218.8 L491.3 218.5 L491.5 217.9 L491.7 217.4 L492.0 217.2 L492.4 217.1 L492.4 216.0 L492.7 215.7 L493.0 215.4 L493.1 214.4 L493.4 214.2 L493.5 213.5 L494.0 213.7 L494.2 213.2 L494.3 212.3 L494.8 212.8 L494.9 211.9 L495.1 211.2 L495.3 210.8 L495.8 211.1 L495.8 210.0 L496.2 210.0 L496.5 209.7 L496.8 209.4 L496.9 208.5 L497.2 208.3 L497.3 207.5 L497.7 207.5 L497.8 206.8 L498.1 206.3 L498.3 205.8 L498.5 205.3 L498.9 205.3 L498.9 204.3 L499.2 203.9 L499.4 203.6 L499.8 203.4 L499.7 202.1 L500.2 202.4 L500.3 201.5 L500.4 200.7 L500.8 200.8 L501.0 200.1 L501.4 200.2 L501.7 200.1 L501.9 199.4 L502.1 198.7 L502.5 198.7 L502.9 198.9 L503.0 198.1 L503.5 198.2 L503.7 197.7 L503.6 196.3 L504.0 196.4 L504.0 195.1 L504.3 195.0 L504.5 194.5 L504.7 193.7 L504.8 193.0 L505.3 193.3 L505.6 192.9 L506.0 193.1 L506.2 192.6 L506.5 192.2 L506.7 191.7 L506.8 190.7 L507.0 190.3 L507.4 190.1 L507.3 188.8 L507.5 188.2 L507.6 187.2 L508.3 188.2 L508.2 186.9 L508.7 187.2 L509.0 186.8 L509.2 186.3 L509.5 186.2 L510.0 186.4 L510.1 185.6 L510.2 184.7 L510.3 183.9 L510.7 184.1 L510.8 183.1 L511.0 182.7 L511.3 182.5 L511.4 181.6 L511.8 181.7 L511.9 180.9 L512.0 180.0 L512.1 179.3 L512.4 179.1 L512.7 178.8 L512.7 177.7 L513.2 178.2 L513.5 177.8 L513.8 177.6 L513.9 177.0 L514.1 176.2 L514.4 176.1 L514.6 175.5 L514.7 174.8 L514.8 173.9 L515.1 173.9 L515.4 173.7 L515.4 172.6 L515.8 172.5 L516.0 171.9 L516.2 171.4 L516.4 171.1 L516.8 171.1 L517.0 170.7 L517.3 170.3 L517.5 169.9 L517.7 169.4 L518.0 169.0 L517.9 167.6 L518.4 168.0 L518.3 166.6 L518.6 166.3 L518.9 166.1 L519.2 165.9 L519.4 165.6 L519.6 164.9 L520.0 165.1 L520.2 164.4 L520.3 163.6 L520.4 163.0 L520.6 162.5 L520.7 161.6 L521.0 161.3 L521.5 161.6 L521.5 160.5 L522.2 161.4 L522.2 160.5 L522.2 159.5 L522.5 159.1 L522.6 158.3 L523.0 158.3 L523.3 158.2 L523.7 158.2 L523.6 156.8 L524.0 157.0 L524.1 156.2 L524.3 155.7 L524.4 155.2 L524.7 154.9 L525.0 154.7 L525.2 154.2 L525.3 153.5 L525.4 152.7 L525.7 152.5 L526.1 152.5 L526.3 152.0 L526.4 151.4 L526.8 151.5 L527.1 151.3 L527.1 150.2 L527.3 149.6 L527.4 149.0 L527.5 148.3 L527.7 147.9 L528.1 147.8 L528.3 147.2 L528.6 147.1 L529.0 147.3 L528.9 145.9 L529.0 145.3 L529.3 144.9 L529.5 144.4 L529.8 144.3 L529.9 143.7 L530.2 143.5 L530.3 142.5 L530.5 142.1 L530.8 141.9 L531.2 142.1 L531.2 140.9 L531.6 141.0 L531.6 139.9 L532.0 139.9 L532.1 139.1 L532.5 139.0 L532.5 138.0 L532.7 137.4 L532.9 137.0 L533.2 136.9 L533.4 136.4 L533.5 135.4 L533.8 135.3 L534.0 134.7 L534.5 135.0 L534.6 134.2 L534.9 134.0 L534.7 132.4 L535.2 132.7 L535.4 132.3 L535.7 132.2 L535.6 130.7 L536.2 131.3 L536.3 130.5 L536.6 130.2 L536.6 129.2 L537.1 129.6 L537.0 128.5 L537.2 128.2 L537.3 127.5 L537.5 127.0 L537.7 126.8 L537.9 126.4 L538.2 126.0 L538.3 125.5 L538.2 124.4 L538.6 124.4 L538.7 123.9 L538.8 123.1 L539.0 122.9 L539.4 122.9 L539.5 122.2 L539.7 121.8 L539.9 121.5 L540.1 121.0 L540.2 120.4 L540.3 119.7 L540.6 119.5 L540.4 118.2 L540.7 118.0 L540.8 117.6 L540.9 116.6 L541.1 116.2 L541.3 115.7 L541.6 115.6 L541.8 115.1 L542.0 114.7 L542.3 114.4 L542.3 113.5 L542.6 113.3 L542.9 113.1 L543.0 112.3 L543.4 112.4 L543.5 111.7 L543.7 111.3 L543.8 110.6 L544.3 110.9 L544.3 110.0 L544.5 109.4 L544.9 109.4 L544.9 108.5 L544.9 107.5 L545.4 107.7 L545.6 107.2 L545.7 106.6 L545.8 105.8 L546.1 105.6 L546.3 104.9 L546.8 105.3 L546.8 104.2 L547.1 104.1 L547.3 103.6 L547.5 102.9 L547.7 102.4 L548.0 102.2 L548.2 101.7 L548.2 100.8 L548.7 101.1 L548.6 99.6 L549.0 99.7 L549.2 99.6 L548.9 98.5 L549.3 98.5 L549.4 98.3 L549.3 97.5 L549.2 96.7 L549.8 97.6 L550.0 96.7 L550.4 96.3 L550.8 95.8 L551.2 95.5 L551.4 94.8 L551.8 95.1 L551.7 93.9 L551.8 93.1 L552.0 92.7 L552.2 92.4 L552.6 92.5 L552.4 91.1 L552.7 91.0 L553.0 90.9 L553.1 90.2 L553.3 89.8 L553.5 89.3 L553.7 88.9 L553.8 88.3 L554.3 88.6 L554.2 87.5 L554.7 87.8 L554.9 87.5 L554.9 86.6 L554.8 85.7 L555.1 85.7 L555.1 84.8 L555.3 84.5 L555.3 83.9 L555.6 83.6 L555.6 82.9 L555.6 82.2 L555.9 82.1 L556.0 81.5 L556.2 81.1 L556.4 80.8 L556.1 79.5 L556.4 79.3 L556.7 79.2 L557.0 79.1 L556.9 78.1 L557.1 77.8 L557.3 77.5 L557.2 76.4 L557.3 76.0 L557.4 75.5 L557.4 74.7 L557.6 74.4 L557.9 74.2 L557.9 73.4 L558.1 73.2 L558.3 72.8 L558.3 72.2 L558.3 71.4 L558.6 71.4 L558.4 70.3 L558.6 70.0 L558.8 69.7 L558.5 68.3 L558.6 68.0 L558.7 67.4 L559.0 67.3 L559.3 67.1 L559.3 66.5 L559.6 66.4 L559.8 66.1 L559.8 65.4 L560.0 65.1 L560.0 64.5 L560.3 64.4 L560.3 63.7 L560.7 63.7 L560.7 63.1 L560.5 61.9 L560.7 61.7 L560.8 61.2 L561.0 60.8 L561.1 60.3 L561.2 59.8 L561.5 59.8 L561.5 59.2 L561.6 58.5 L561.6 57.9 L561.8 57.6 L561.6 56.6 L561.9 56.5 L562.0 56.0 L562.0 55.1 L562.3 55.1 L562.4 54.7 L562.3 53.7 L562.3 53.0 L562.4 52.5 L562.6 52.2 L562.9 52.1 L562.8 51.2 L562.9 50.8 L562.9 50.1 L563.1 49.8 L563.2 49.3 L563.1 48.4 L563.5 48.5 L563.7 48.3 L563.7 47.5 L563.5 46.5 L563.6 46.1 L563.8 45.8 L563.9 45.4 L563.8 44.4 L564.0 44.3 L563.9 43.4 L563.9 42.7 L564.2 42.6 L564.2 41.9 L564.5 41.8 L564.5 41.1 L564.4 40.3 L564.5 39.9 L564.8 39.7 L565.1 39.7 L565.0 38.9 L565.1 38.3 L565.4 38.2 L565.3 37.4 L565.2 36.6 L565.4 36.3 L565.3 35.5 L565.6 35.3 L565.7 34.8 L565.8 34.5 L565.7 33.7 L565.8 33.1 L565.9 32.6 L566.0 32.2 L566.1 31.7 L566.1 31.1 L566.5 31.1 L566.5 30.4 L566.6 29.9" fill="none" stroke="#f50000" stroke-width="2.1" stroke-linejoin="round"/>
<path d="M91.6 165.5H106.2V162.5L116.0 167.1L106.2 171.7V168.7H91.6Z" fill="#000"/>
<path d="M172.8 170.5H187.5V167.5L197.3 172.1L187.5 176.7V173.7H172.8Z" fill="#000"/>
<path d="M186.5 181.2H201.0V178.2L210.8 182.8L201.0 187.4V184.4H186.5Z" fill="#000"/>
<path d="M319.3 183.5H333.8V180.5L343.6 185.1L333.8 189.7V186.7H319.3Z" fill="#000"/>
<path d="M339.0 191.4H354.2V188.4L364.0 193.0L354.2 197.6V194.6H339.0Z" fill="#000"/>
<path d="M154.2 26.0V41.9H151.3L156.0 50.7L160.7 41.9H157.8V26.0Z" fill="#000"/>
<path d="M389.2 38.3V54.0H386.3L391.0 62.8L395.7 54.0H392.8V38.3Z" fill="#000"/>
<path d="M508.6 232.8V217.1H505.7L510.4 208.3L515.1 217.1H512.1V232.8Z" fill="#000"/>
<g stroke="#000" fill="none" stroke-width="1.3">
<path d="M391.4 169V268.6"/>
<path d="M388.3 173.4L391.4 166.8L394.5 173.4" fill="#000" stroke-width="0.8" stroke-linejoin="miter"/>
<path d="M388.4 263.4L391.5 269.2L394.6 263.4" stroke-width="1.3"/>
<path d="M383.1 269.3H449.5" stroke-dasharray="5.8 2.25" stroke-width="1.25" stroke="#1a1a1a"/>
</g>
<text x="397" y="242.4" class="num" fill="#000">F</text>
<text x="62.5" y="155.7" class="num" fill="#000">1</text>
<text x="541.7" y="35.3" class="num" fill="#000">2</text>
<text x="521.3" y="194.4" class="num" fill="#f00000">3</text>
<text x="210.2" y="205.9" class="num" fill="#f00000">4</text>
<path d="M96.7 129.0H221.0" fill="none" stroke="#000" stroke-width="2.4"/><path d="M108.6 129.3l-11.3 12.3M125.1 129.3l-11.3 12.3M141.6 129.3l-11.3 12.3M158.1 129.3l-11.3 12.3M174.6 129.3l-11.3 12.3M191.1 129.3l-11.3 12.3M207.6 129.3l-11.3 12.3" fill="none" stroke="#000" stroke-width="2.9"/>
<ellipse cx="151.5" cy="111.4" rx="28.3" ry="16.6" fill="#fff" stroke="#000" stroke-width="1.9"/>
<ellipse cx="157.0" cy="72.0" rx="18.8" ry="16.1" fill="#fff" stroke="#000" stroke-width="1.9"/>
<path d="M139 56.7L196.5 50.3L196.7 52.7L139.3 60Z" fill="#000"/>
<path d="M195.5 45.9L263.7 38.4L265.2 52.1L197.3 59.9Z" fill="#fff" stroke="#000" stroke-width="2.05"/>
<path d="M212.1 63.2L280.1 54.8L281.8 69.4L213.7 77.2Z" fill="#fff" stroke="#000" stroke-width="2.05"/>
<text x="156.3" y="78.0" class="cell" text-anchor="middle">T</text>
<text x="151.4" y="117.2" class="cell" text-anchor="middle">DC</text>
<text x="187" y="98.5" class="lb" textLength="16.8" lengthAdjust="spacingAndGlyphs" style="stroke-width:0">(1)</text>
<text x="212" y="98.4" class="lb" textLength="64.3" lengthAdjust="spacingAndGlyphs">approach</text>
<path d="M331.6 128.0H456.0" fill="none" stroke="#000" stroke-width="2.4"/><path d="M343.5 128.3l-11.3 12.3M360.0 128.3l-11.3 12.3M376.5 128.3l-11.3 12.3M393.0 128.3l-11.3 12.3M409.5 128.3l-11.3 12.3M426.0 128.3l-11.3 12.3M442.5 128.3l-11.3 12.3" fill="none" stroke="#000" stroke-width="2.9"/>
<ellipse cx="389.7" cy="113.1" rx="28.3" ry="15.2" fill="#fff" stroke="#000" stroke-width="1.9"/>
<ellipse cx="391.0" cy="82.9" rx="20.3" ry="15.4" fill="#fff" stroke="#000" stroke-width="1.9"/>
<path d="M375.8 66.8C392 66.8 400 66 410 63.4L434.5 57.3" stroke="#000" stroke-width="2.7" fill="none"/>
<path d="M433.8 48.6L501.2 40.2L503.1 54.1L435.5 62.4Z" fill="#fff" stroke="#000" stroke-width="2.05"/>
<text x="389.6" y="89.2" class="cell" text-anchor="middle">T</text>
<text x="389.7" y="119.1" class="cell" text-anchor="middle">DC</text>
<text x="424.4" y="95.7" class="lb" textLength="101.7" lengthAdjust="spacingAndGlyphs">(2) contact and</text>
<text x="444.4" y="115.9" class="lb" textLength="61.8" lengthAdjust="spacingAndGlyphs">adhesion</text>
<path d="M163.0 301.5H253.8" fill="none" stroke="#000" stroke-width="2.4"/><path d="M170.4 301.8l-7.1 12.2M182.5 301.8l-7.1 12.2M194.6 301.8l-7.1 12.2M206.7 301.8l-7.1 12.2M218.8 301.8l-7.1 12.2M230.9 301.8l-7.1 12.2M243.2 301.8l-7.1 12.2" fill="none" stroke="#000" stroke-width="2.9"/>
<ellipse cx="208.9" cy="285.8" rx="28.5" ry="15.3" fill="#fff" stroke="#000" stroke-width="1.9"/>
<ellipse cx="205.3" cy="236.6" rx="20.4" ry="15.4" fill="#fff" stroke="#000" stroke-width="1.9"/>
<path d="M183.3 225.2C198 219.5 212 216 230.6 212.8L230.8 214.8C212 218.2 199 221.8 184.7 228.2Z" fill="#000"/>
<path d="M230.3 206.8L298.4 198.6L300.3 212.9L232.1 220.6Z" fill="#fff" stroke="#000" stroke-width="2.05"/>
<g fill="#fff" stroke="#000" stroke-width="1.3">
<path d="M200 251V255M200.3 267V271M208.4 252V255M208.5 266.5V271M218.3 249V250.5M217.2 268V271"/>
<circle cx="199.4" cy="258.1" r="3.0"/>
<circle cx="199.4" cy="264.2" r="3.0"/>
<circle cx="208.3" cy="257.7" r="3.0"/>
<circle cx="208.3" cy="263.6" r="3.0"/>
<circle cx="219.4" cy="253.2" r="3.2"/>
<circle cx="217.2" cy="265.3" r="2.9"/>
</g>
<text x="203.7" y="242.6" class="cell" text-anchor="middle">T</text>
<text x="208.6" y="291.6" class="cell" text-anchor="middle">DC</text>
<text x="228.8" y="256.5" class="lr" textLength="104.5" lengthAdjust="spacingAndGlyphs">(4) breakage of</text>
<text x="260.4" y="276.6" class="lr" textLength="40.8" lengthAdjust="spacingAndGlyphs">bonds</text>
<path d="M464.8 302.6H556.4" fill="none" stroke="#000" stroke-width="2.4"/><path d="M472.8 302.9l-7.2 11.8M485.0 302.9l-7.2 11.8M497.2 302.9l-7.2 11.8M509.4 302.9l-7.2 11.8M521.6 302.9l-7.2 11.8M533.8 302.9l-7.2 11.8M546.0 302.9l-7.2 11.8" fill="none" stroke="#000" stroke-width="2.9"/>
<ellipse cx="509.7" cy="286.8" rx="28.4" ry="15.2" fill="#fff" stroke="#000" stroke-width="1.9"/>
<ellipse cx="510.0" cy="257.2" rx="20.3" ry="14.8" fill="#fff" stroke="#000" stroke-width="1.9"/>
<path d="M488.5 245.2C505 239.4 518 236.2 535 233.2L535.2 235.3C518 238.4 506 241.8 490 248.2Z" fill="#000"/>
<path d="M534.9 227.4L602.5 218.4L604.3 232.1L537.0 241.1Z" fill="#fff" stroke="#000" stroke-width="2.05"/>
<text x="508.2" y="263.6" class="cell" text-anchor="middle">T</text>
<text x="509.1" y="293.6" class="cell" text-anchor="middle">DC</text>
<text x="536.2" y="272.2" class="lr" textLength="68.4" lengthAdjust="spacingAndGlyphs">(3) retract</text>
</svg></body></html>
